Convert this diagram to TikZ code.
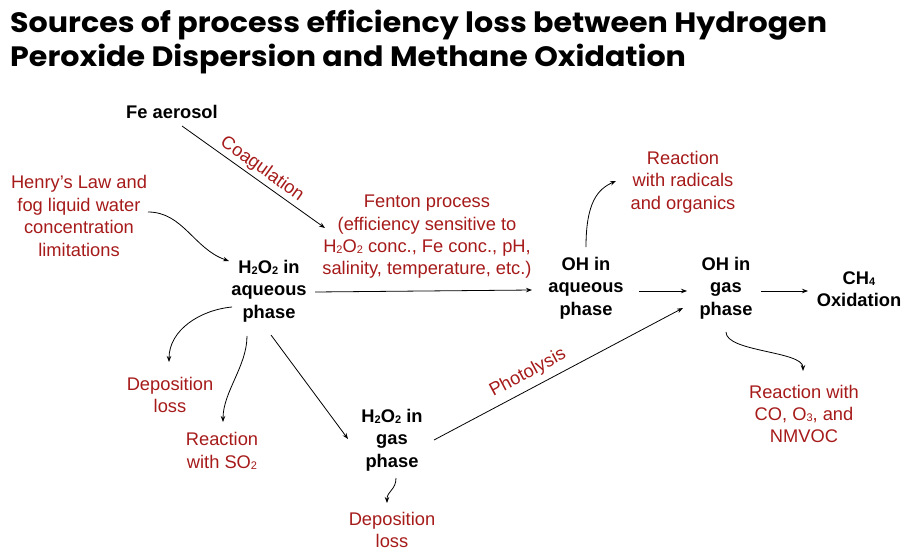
\documentclass[tikz,border=0pt]{standalone}
\usepackage{fontspec}
\setmainfont{Liberation Sans}
\newfontfamily\titlefont{Poppins}
\usetikzlibrary{arrows.meta,calc}
\definecolor{lossred}{RGB}{166,26,26}
\newcommand\subs[1]{\raisebox{-0.12ex}{\fontsize{11}{11}\selectfont #1}}
\newcommand\ttlstretch[1]{\scalebox{1.075}[1]{#1}}
\tikzset{
  body/.style={font=\fontsize{18.3}{22.4}\selectfont, align=center, inner sep=0pt},
  species/.style={body, font=\fontsize{18.3}{22.4}\selectfont\bfseries, text=black},
  loss/.style={body, text=lossred},
  conn/.style={line width=0.8pt, -{Stealth[length=6pt,width=4.5pt]}},
  ttl/.style={font=\titlefont\bfseries\fontsize{28}{34}\selectfont, anchor=base west, inner sep=0pt}
}
\begin{document}
\begin{tikzpicture}[x=1pt,y=-1pt]
\path[use as bounding box] (0,0) rectangle (913,554);
\node[ttl] (t1) at (10,32) {\ttlstretch{Sources of process efficiency loss between Hydrogen}};
\node[ttl] (t2) at (10,66) {\ttlstretch{Peroxide Dispersion and Methane Oxidation}};

\node[species] (fe) at (172,112) {Fe aerosol};
\node[loss] (henry) at (79,216) {Henry’s Law and\\fog liquid water\\concentration\\limitations};
\node[species] (haq) at (269,291) {H\subs{2}O\subs{2} in\\aqueous\\phase};
\node[loss] (fenton) at (427,237) {Fenton process\\(efficiency sensitive to\\H\subs{2}O\subs{2} conc., Fe conc., pH,\\salinity, temperature, etc.)};
\node[species] (ohaq) at (586,288) {OH in\\aqueous\\phase};
\node[loss] (rad) at (683,182) {Reaction\\with radicals\\and organics};
\node[species] (ohgas) at (726,288) {OH in\\gas\\phase};
\node[species] (ch4) at (859,289) {CH\subs{4}\\Oxidation};
\node[loss] (coreac) at (804,414) {Reaction with\\CO, O\subs{3}, and\\NMVOC};
\node[loss] (dep1) at (170,395) {Deposition\\loss};
\node[loss] (so2) at (222,451) {Reaction\\with SO\subs{2}};
\node[species] (hgas) at (392,440) {H\subs{2}O\subs{2} in\\gas\\phase};
\node[loss] (dep2) at (392,530) {Deposition\\loss};

\node[loss, rotate=-35.5] (coag) at (262,169) {Coagulation};
\node[loss, rotate=28] (photo) at (528,373) {Photolysis};

% connectors
\draw[conn] ($(fe.center)+(10,14)$) -- ($(fenton.center)+(-102,-9)$);
\draw[conn] ($(henry.center)+(69,-4)$) .. controls +(35,0) and +(-35,-12) .. ($(haq.center)+(-40,-30)$);
\draw[conn] ($(haq.center)+(46,1)$) -- ($(ohaq.center)+(-54,2)$);
\draw[conn] ($(ohaq.center)+(53,3)$) -- ($(ohgas.center)+(-39,3)$);
\draw[conn] ($(ohgas.center)+(35,3)$) -- ($(ch4.center)+(-51,2)$);
\draw[conn] ($(ohaq.center)+(0,-41)$) .. controls +(0,-45) and +(-18,8) .. ($(rad.center)+(-67,-1)$);
\draw[conn] ($(hgas.center)+(42,0)$) -- ($(ohgas.center)+(-43,20)$);
\draw[conn] ($(ohgas.center)+(0,44)$) .. controls +(0,20) and +(0,-20) .. ($(coreac.center)+(-1,-43)$);
\draw[conn] ($(haq.center)+(-37,16)$) .. controls +(-32,3) and +(0,-32) .. ($(dep1.center)+(-1,-33)$);
\draw[conn] ($(haq.center)+(-22,45)$) .. controls +(0,30) and +(0,-30) .. ($(so2.center)+(1,-29)$);
\draw[conn] ($(haq.center)+(2,44)$) -- ($(hgas.center)+(-44,-1)$);
\draw[conn] ($(hgas.center)+(4,38)$) .. controls +(0,12) and +(0,-12) .. ($(dep2.center)+(-5,-27)$);
\end{tikzpicture}
\end{document}
